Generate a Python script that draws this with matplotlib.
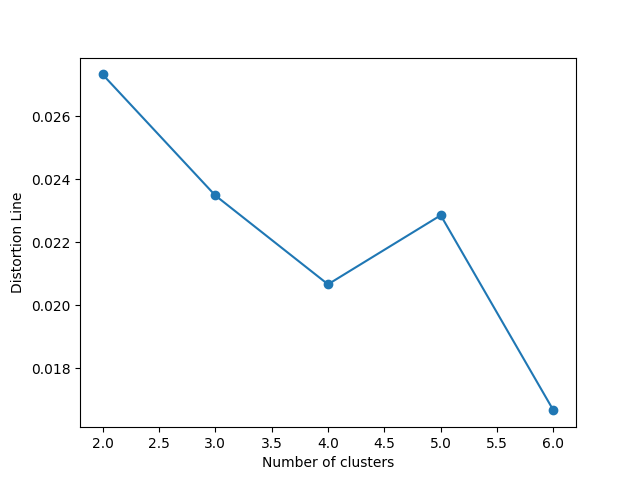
import matplotlib
matplotlib.use("Agg")
import matplotlib.pyplot as plt

# number of clusters vs distortion
clusters = [2, 3, 4, 5, 6]
distortion = [0.02733, 0.02349, 0.02067, 0.02286, 0.01667]

plt.figure(figsize=(6.4, 4.8), dpi=100)
plt.plot(clusters, distortion, marker='o')
plt.xlabel('Number of clusters')
plt.ylabel('Distortion Line')
plt.savefig('out.png')
